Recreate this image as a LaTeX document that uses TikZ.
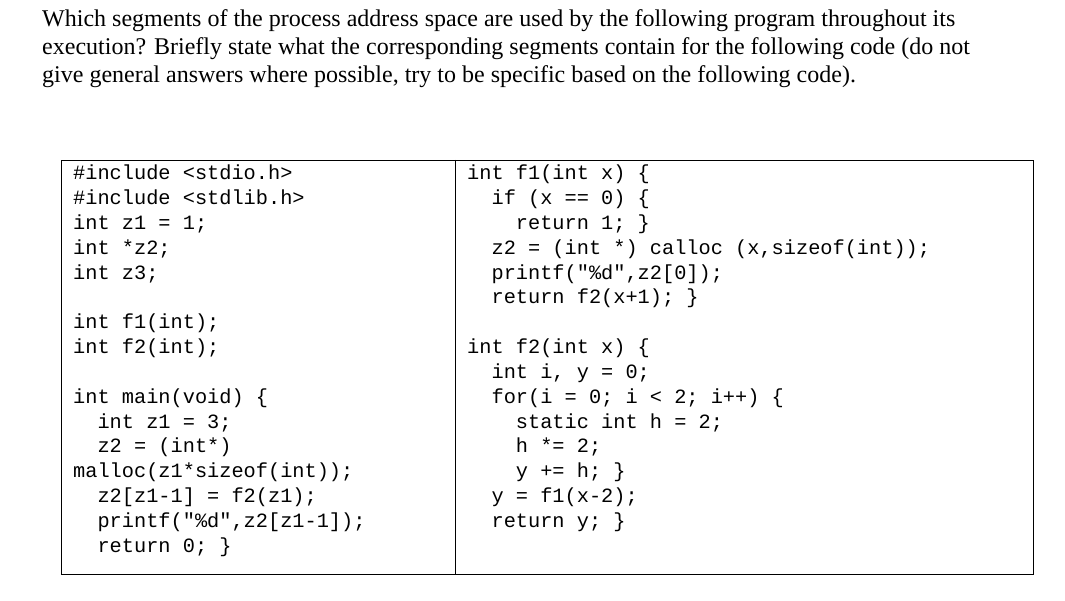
\documentclass[tikz,border=0pt]{standalone}
\usepackage{fontspec}
\setmainfont{Liberation Serif}
\setmonofont{Liberation Mono}
\begin{document}
\begin{tikzpicture}[x=1pt,y=-1pt,
  para/.style={anchor=base west,inner sep=0pt,font=\fontsize{24}{28}\selectfont},
  code/.style={anchor=base west,inner sep=0pt,font=\ttfamily\fontsize{20.3}{25}\selectfont}]
\useasboundingbox (0,0) rectangle (1065,601);
\node[para] (q1) at (42,27) {Which segments of the process address space are used by the following program throughout its};
\node[para] (q2) at (42,55) {execution? Briefly state what the corresponding segments contain for the following code (do not};
\node[para] (q3) at (42,83) {give general answers where possible, try to be specific based on the following code).};
\draw[line width=0.8pt] (61,160) rectangle (1033,574);
\draw[line width=0.8pt] (455,160) -- (455,574);
\foreach \t [count=\i] in {%
{\#include <stdio.h>},{\#include <stdlib.h>},{int z1 = 1;},{int *z2;},{int z3;},{},
{int f1(int);},{int f2(int);},{},{int main(void) \{},{\ \ int z1 = 3;},{\ \ z2 = (int*)},
{malloc(z1*sizeof(int));},{\ \ z2[z1-1] = f2(z1);},{\ \ printf("\%d",z2[z1-1]);},{\ \ return 0; \}}}
  \node[code] (l\i) at (73,{180+24.8*(\i-1)}) {\t};
\foreach \t [count=\i] in {%
{int f1(int x) \{},{\ \ if (x == 0) \{},{\ \ \ \ return 1; \}},{\ \ z2 = (int *) calloc (x,sizeof(int));},
{\ \ printf("\%d",z2[0]);},{\ \ return f2(x+1); \}},{},{int f2(int x) \{},{\ \ int i, y = 0;},
{\ \ for(i = 0; i < 2; i++) \{},{\ \ \ \ static int h = 2;},{\ \ \ \ h *= 2;},{\ \ \ \ y += h; \}},
{\ \ y = f1(x-2);},{\ \ return y; \}}}
  \node[code] (r\i) at (467,{180+24.8*(\i-1)}) {\t};
\end{tikzpicture}
\end{document}
